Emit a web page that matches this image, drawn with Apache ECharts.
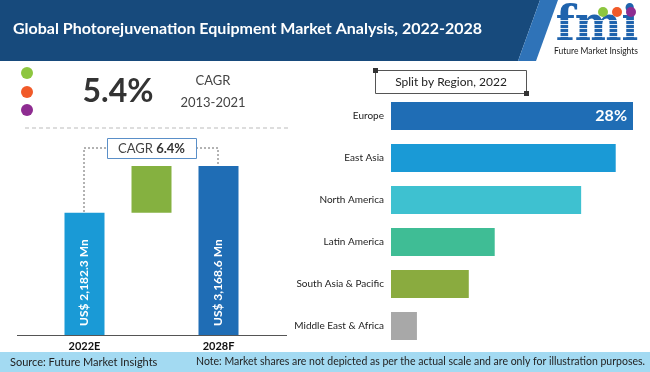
<!DOCTYPE html>
<html>
<head>
<meta charset="utf-8">
<script src="https://cdn.jsdelivr.net/npm/echarts@6/dist/echarts.min.js"></script>
<style>
html,body{margin:0;padding:0;background:#fff;}
#chart{width:650px;height:372px;}
</style>
</head>
<body>
<div id="chart"></div>
<script>
// ---- data ----
const titleText = 'Global Photorejuvenation Equipment Market Analysis, 2022-2028';
const historicCagr = '5.4%';
const historicPeriod = '2013-2021';
const forecastCagr = '6.4%';
const wfCategories = ['2022E', '', '2028F'];
const marketValues = [2182.3, 3168.6]; // 2022E, 2028F (US$ Mn)
const marketLabels = ['US$ 2,182.3 Mn', 'US$ 3,168.6 Mn'];
const regions = ['Europe', 'East Asia', 'North America', 'Latin America', 'South Asia & Pacific', 'Middle East & Africa'];
const regionShares = [28, 26, 22, 12, 9, 3];
const regionTitle = 'Split by Region, 2022';
const sourceText = 'Source: Future Market Insights';
const noteText = 'Note: Market shares are not depicted as per the actual scale and are only for illustration purposes.';

// ---- styles ----
const regionColors = ['#1f6db5', '#1a9ad6', '#3ec1d0', '#3fbd95', '#8aab3f', '#a8a8a8'];
const wfColors = ['#1a9ad6', '#85b140', '#1f6db5'];
const FONT = 'Lato';
const wfMin = -400;

const wfData = [
  [0, null, marketValues[0], 0, marketLabels[0]],
  [1, marketValues[0], marketValues[1], 1, ''],
  [2, null, marketValues[1], 2, marketLabels[1]]
];

const chart = echarts.init(document.getElementById('chart'), null, {renderer: 'canvas'});

const logoStripes = [];
for (let yy = 20; yy <= 44; yy += 4) {
  logoStripes.push({type: 'line', shape: {x1: 552, y1: yy + 0.5, x2: 645, y2: yy + 0.5}, style: {stroke: '#fff', lineWidth: 1, opacity: 0.85}, silent: true});
}

const option = {
  animation: false,
  backgroundColor: '#fff',
  grid: [
    {left: 51, width: 201, top: 166, bottom: 37},
    {left: 391, right: 17, top: 95, bottom: 25}
  ],
  xAxis: [
    {gridIndex: 0, type: 'category', data: wfCategories,
      axisLine: {show: false}, axisTick: {show: false},
      axisLabel: {color: '#111', fontFamily: FONT, fontWeight: 'bold', fontSize: 11, margin: 6}},
    {gridIndex: 1, type: 'value', min: 0, max: 'dataMax', show: false}
  ],
  yAxis: [
    {gridIndex: 0, type: 'value', min: wfMin, max: 'dataMax', show: false},
    {gridIndex: 1, type: 'category', data: regions, inverse: true,
      axisLine: {show: false}, axisTick: {show: false},
      axisLabel: {color: '#222', fontFamily: FONT, fontSize: 10, margin: 7}}
  ],
  series: [
    {
      type: 'custom', xAxisIndex: 0, yAxisIndex: 0,
      data: wfData,
      encode: {x: 0, y: 2},
      renderItem: function (params, api) {
        const cs = params.coordSys;
        const x = api.value(0);
        const startVal = api.value(1);
        const endVal = api.value(2);
        const top = api.coord([x, endVal]);
        const baseY = (startVal === null || isNaN(startVal)) ? cs.y + cs.height : api.coord([x, startVal])[1];
        const w = 40;
        const children = [{
          type: 'rect',
          shape: {x: top[0] - w / 2, y: top[1], width: w, height: baseY - top[1]},
          style: {fill: wfColors[api.value(3)]}
        }];
        const lbl = wfData[params.dataIndex][4];
        if (lbl) {
          children.push({
            type: 'text', x: top[0], y: baseY - 9, rotation: Math.PI / 2,
            style: {text: lbl, fill: '#fff', font: 'bold 12px ' + FONT, align: 'left', verticalAlign: 'middle'}
          });
        }
        return {type: 'group', children: children};
      }
    },
    {
      type: 'bar', xAxisIndex: 1, yAxisIndex: 1, barWidth: 28,
      data: regionShares.map((v, i) => ({
        value: v,
        itemStyle: {color: regionColors[i]},
        label: i === 0 ? {show: true, position: 'insideRight', distance: 6, formatter: '{c}%',
          color: '#fff', fontFamily: FONT, fontWeight: 'bold', fontSize: 16} : {show: false}
      }))
    }
  ],
  graphic: [
    // header
    {type: 'polygon', shape: {points: [[0, 0], [540, 0], [518, 61], [0, 61]]}, style: {fill: '#174a7c'}, silent: true},
    {type: 'polygon', shape: {points: [[540, 0], [558, 0], [536, 61], [518, 61]]}, style: {fill: '#2f73b8'}, silent: true},
    {type: 'text', x: 13, y: 29, style: {text: titleText, fill: '#fff', font: 'bold 16px ' + FONT, verticalAlign: 'middle'}},
    // logo
    {type: 'text', x: 597, y: 28, scaleX: 0.92, style: {text: 'fmi', fill: '#1f63ad', font: 'bold 48px "DejaVu Serif"', align: 'center', verticalAlign: 'middle'}},
  ].concat(logoStripes).concat([
    {type: 'circle', shape: {cx: 603, cy: 12, r: 5}, style: {fill: '#8dc63f'}},
    {type: 'circle', shape: {cx: 617, cy: 12, r: 5}, style: {fill: '#f15a29'}},
    {type: 'circle', shape: {cx: 631, cy: 12, r: 5}, style: {fill: '#8e2c91'}},
    {type: 'text', x: 596, y: 51, style: {text: 'Future Market Insights', fill: '#222', font: '8.5px ' + FONT, align: 'center', verticalAlign: 'middle'}},
    // left summary
    {type: 'circle', shape: {cx: 27, cy: 73, r: 6}, style: {fill: '#8dc63f'}},
    {type: 'circle', shape: {cx: 27, cy: 92, r: 6}, style: {fill: '#f15a29'}},
    {type: 'circle', shape: {cx: 27, cy: 110, r: 6}, style: {fill: '#8e2c91'}},
    {type: 'text', x: 118, y: 92, style: {text: historicCagr, fill: '#333', font: 'bold 32px ' + FONT, align: 'center', verticalAlign: 'middle'}},
    {type: 'text', x: 213, y: 81, style: {text: 'CAGR', fill: '#444', font: '13px ' + FONT, align: 'center', verticalAlign: 'middle'}},
    {type: 'text', x: 213, y: 103, style: {text: historicPeriod, fill: '#444', font: '13px ' + FONT, align: 'center', verticalAlign: 'middle'}},
    {type: 'line', shape: {x1: 25, y1: 128, x2: 288, y2: 128}, style: {stroke: '#bbb', lineWidth: 1, lineDash: [4, 3]}},
    // waterfall decorations
    {type: 'polyline', shape: {points: [[84, 212], [84, 148], [218, 148], [218, 165]]}, style: {stroke: '#666', lineWidth: 1, lineDash: [2, 2], fill: null}},
    {type: 'rect', shape: {x: 107.5, y: 138.5, width: 89, height: 20}, style: {fill: '#fff', stroke: '#5a8fc8', lineWidth: 1}},
    {type: 'text', x: 151.5, y: 149, style: {text: '{a|CAGR }{b|' + forecastCagr + '}', align: 'center', verticalAlign: 'middle',
      rich: {a: {font: '13px ' + FONT, fill: '#444'}, b: {font: 'bold 13px ' + FONT, fill: '#333'}}}},
    {type: 'line', shape: {x1: 17, y1: 335.5, x2: 287, y2: 335.5}, style: {stroke: '#555', lineWidth: 1}},
    // region title box
    {type: 'rect', shape: {x: 375.5, y: 70.5, width: 151, height: 23}, style: {fill: '#fff', stroke: '#555', lineWidth: 1}},
    {type: 'rect', shape: {x: 373, y: 68, width: 5, height: 5}, style: {fill: '#333'}},
    {type: 'rect', shape: {x: 524, y: 91, width: 5, height: 5}, style: {fill: '#333'}},
    {type: 'text', x: 451, y: 82, style: {text: regionTitle, fill: '#222', font: '12px ' + FONT, align: 'center', verticalAlign: 'middle'}},
    // footer
    {type: 'rect', shape: {x: 0, y: 352, width: 650, height: 20}, style: {fill: '#a3daf2'}},
    {type: 'text', x: 10, y: 362, style: {text: sourceText, fill: '#222', font: '11px ' + FONT, verticalAlign: 'middle'}},
    {type: 'text', x: 645, y: 362, style: {text: noteText, fill: '#222', font: '10.5px ' + FONT, align: 'right', verticalAlign: 'middle'}}
  ])
};
chart.setOption(option);
</script>
</body>
</html>
